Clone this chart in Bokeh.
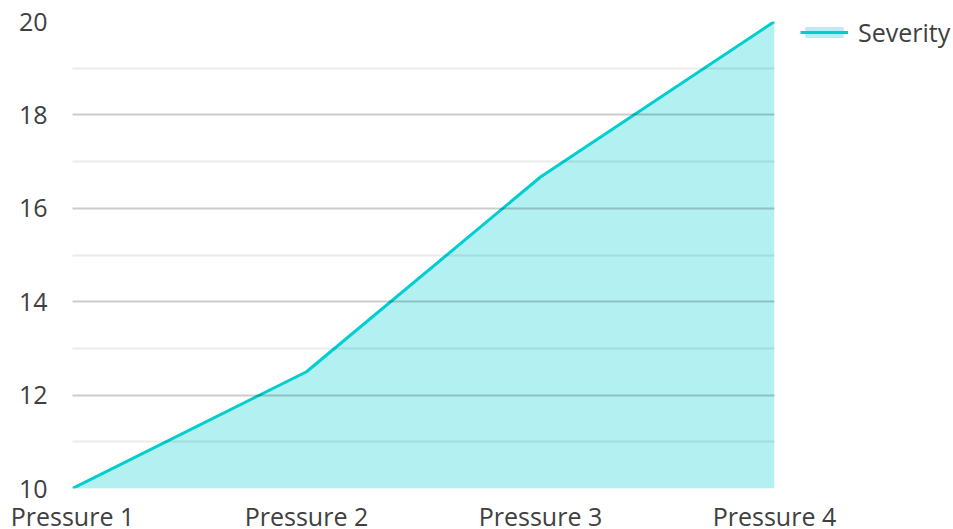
from bokeh.plotting import figure
from bokeh.models import Range1d, FixedTicker, Legend, LegendItem
from bokeh.embed import file_html
from bokeh.resources import INLINE

categories = ["Pressure 1", "Pressure 2", "Pressure 3", "Pressure 4"]
severity = [10, 12.5, 16.67, 20]
y_ticks = [10, 12, 14, 16, 18, 20]
y_minor = [11, 13, 15, 17, 19]
series_name = "Severity"

LINE = "#00CED1"
FONT = "Open Sans"
TXT = "#404040"

x = list(range(len(categories)))

p = figure(frame_width=702, frame_height=467, output_backend="svg",
           toolbar_location=None, x_range=Range1d(0, len(categories) - 1),
           y_range=Range1d(10, 20), min_border_left=72, min_border_top=21,
           min_border_bottom=40, min_border_right=10)
p.outline_line_color = None

area = p.varea(x=x, y1=[10] * len(x), y2=severity, fill_color=LINE, fill_alpha=0.3)
line = p.line(x=x, y=severity, line_color=LINE, line_width=3)

p.xaxis.ticker = FixedTicker(ticks=x)
p.xaxis.major_label_overrides = {i: c for i, c in zip(x, categories)}
p.yaxis.ticker = FixedTicker(ticks=y_ticks, minor_ticks=y_minor)
for ax in (p.xaxis[0], p.yaxis[0]):
    ax.axis_line_color = None
    ax.major_tick_line_color = None
    ax.minor_tick_line_color = None
    ax.major_label_text_font = FONT
    ax.major_label_text_font_size = "25px"
    ax.major_label_text_color = TXT
p.xaxis.major_label_standoff = 4
p.yaxis.major_label_standoff = 19

p.xgrid.grid_line_color = None
p.ygrid.grid_line_color = "black"
p.ygrid.grid_line_alpha = 0.2
p.ygrid.grid_line_width = 2
p.ygrid.minor_grid_line_color = "black"
p.ygrid.minor_grid_line_alpha = 0.08
p.ygrid.minor_grid_line_width = 2
p.ygrid.level = "annotation"

legend = Legend(items=[LegendItem(label=series_name, renderers=[area, line])],
                location=(26, 439), border_line_color=None, background_fill_alpha=0,
                padding=0, margin=0, glyph_width=48, glyph_height=14, label_standoff=10,
                label_text_font=FONT, label_text_font_size="25px", label_text_color=TXT)
p.add_layout(legend, "right")

open("out.html", "w").write(file_html(p, INLINE))
